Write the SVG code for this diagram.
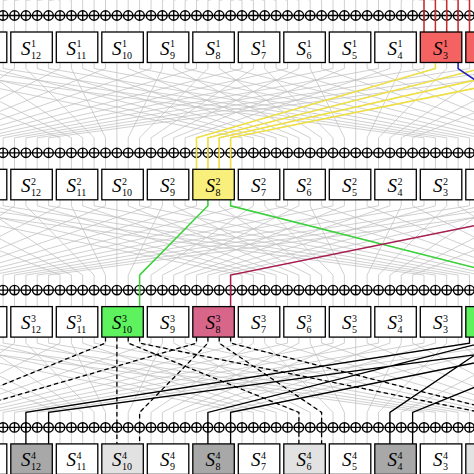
<svg xmlns="http://www.w3.org/2000/svg" xmlns:xlink="http://www.w3.org/1999/xlink" width="474" height="474" viewBox="0 0 474 474">
<style>
.w{fill:none;stroke:#c0c0c0;stroke-width:0.75}
.k{fill:none;stroke:#000;stroke-width:1.35}
.xc{fill:#fff;stroke:#000;stroke-width:1.4}
.bx rect{fill:#fff;stroke:#000;stroke-width:1.3}
.bx rect.r{fill:#f46262}
.bx rect.y{fill:#f8ef7c}
.bx rect.g{fill:#5ff25f}
.bx rect.m{fill:#d8668b}
.bx rect.dg{fill:#a8a8a8}
.bx rect.lg{fill:#e2e2e2}
.lb{font-family:"Liberation Serif","Times New Roman",serif;font-size:10px;fill:#000}
.lb .i{font-size:19px;font-style:italic}
.t{fill:none;stroke-width:1.5}
.tr{stroke:#cc2b2b}
.ty{stroke:#f0e040;stroke-width:1.6}
.tg{stroke:#3ad13a}
.tm{stroke:#a81c50}
.tb{stroke:#2020c0}
.ts{stroke:#000;stroke-width:1.3}
.td{stroke:#000;stroke-width:1.3;stroke-dasharray:4.5 3}
</style>
<defs>
<g id="xo"><circle class="xc" r="4.7"/><path class="k" d="M-4.7 0H4.7M0-4.7V4.7"/></g>
<g id="xr">
<path class="k" d="M0 0H474"/>
<use xlink:href="#xo" x="469.5"/><use xlink:href="#xo" x="458.1"/><use xlink:href="#xo" x="446.7"/><use xlink:href="#xo" x="435.4"/><use xlink:href="#xo" x="424"/><use xlink:href="#xo" x="412.6"/><use xlink:href="#xo" x="401.2"/><use xlink:href="#xo" x="389.9"/><use xlink:href="#xo" x="378.5"/><use xlink:href="#xo" x="367.1"/><use xlink:href="#xo" x="355.7"/><use xlink:href="#xo" x="344.4"/><use xlink:href="#xo" x="333"/><use xlink:href="#xo" x="321.6"/><use xlink:href="#xo" x="310.2"/><use xlink:href="#xo" x="298.9"/><use xlink:href="#xo" x="287.5"/><use xlink:href="#xo" x="276.1"/><use xlink:href="#xo" x="264.7"/><use xlink:href="#xo" x="253.4"/><use xlink:href="#xo" x="242"/><use xlink:href="#xo" x="230.6"/><use xlink:href="#xo" x="219.2"/><use xlink:href="#xo" x="207.9"/><use xlink:href="#xo" x="196.5"/><use xlink:href="#xo" x="185.1"/><use xlink:href="#xo" x="173.7"/><use xlink:href="#xo" x="162.4"/><use xlink:href="#xo" x="151"/><use xlink:href="#xo" x="139.6"/><use xlink:href="#xo" x="128.2"/><use xlink:href="#xo" x="116.9"/><use xlink:href="#xo" x="105.5"/><use xlink:href="#xo" x="94.1"/><use xlink:href="#xo" x="82.7"/><use xlink:href="#xo" x="71.4"/><use xlink:href="#xo" x="60"/><use xlink:href="#xo" x="48.6"/><use xlink:href="#xo" x="37.2"/><use xlink:href="#xo" x="25.9"/><use xlink:href="#xo" x="14.5"/><use xlink:href="#xo" x="3.1"/>
</g>
<path id="perm" class="w" d="M583.2 62.5V68.5L412.6 137.8V169.3M571.9 62.5V68.5L230.6 137.8V169.3M560.5 62.5V68.5L48.6 137.8V169.3M537.7 62.5V68.5L401.2 137.8V169.3M526.4 62.5V68.5L219.2 137.8V169.3M515 62.5V68.5L37.2 137.8V169.3M492.2 62.5V68.5L389.9 137.8V169.3M480.9 62.5V68.5L207.9 137.8V169.3M469.5 62.5V68.5L25.9 137.8V169.3M458.1 62.5V68.5L560.5 137.8V169.3M446.7 62.5V68.5L378.5 137.8V169.3M435.4 62.5V68.5L196.5 137.8V169.3M424 62.5V68.5L14.5 137.8V169.3M412.6 62.5V68.5L549.1 137.8V169.3M401.2 62.5V68.5L367.1 137.8V169.3M389.9 62.5V68.5L185.1 137.8V169.3M378.5 62.5V68.5L3.1 137.8V169.3M367.1 62.5V68.5L537.7 137.8V169.3M355.7 62.5V169.3M344.4 62.5V68.5L173.7 137.8V169.3M333 62.5V68.5L-8.3 137.8V169.3M321.6 62.5V68.5L526.4 137.8V169.3M310.2 62.5V68.5L344.4 137.8V169.3M298.9 62.5V68.5L162.4 137.8V169.3M287.5 62.5V68.5L-19.7 137.8V169.3M276.1 62.5V68.5L515 137.8V169.3M264.7 62.5V68.5L333 137.8V169.3M253.4 62.5V68.5L151 137.8V169.3M242 62.5V68.5L-31 137.8V169.3M230.6 62.5V68.5L503.6 137.8V169.3M219.2 62.5V68.5L321.6 137.8V169.3M207.9 62.5V68.5L139.6 137.8V169.3M196.5 62.5V68.5L-42.4 137.8V169.3M185.1 62.5V68.5L492.2 137.8V169.3M173.7 62.5V68.5L310.2 137.8V169.3M162.4 62.5V68.5L128.2 137.8V169.3M151 62.5V68.5L-53.8 137.8V169.3M139.6 62.5V68.5L480.9 137.8V169.3M128.2 62.5V68.5L298.9 137.8V169.3M116.9 62.5V169.3M105.5 62.5V68.5L-65.2 137.8V169.3M94.1 62.5V68.5L469.5 137.8V169.3M82.7 62.5V68.5L287.5 137.8V169.3M71.4 62.5V68.5L105.5 137.8V169.3M60 62.5V68.5L-76.5 137.8V169.3M48.6 62.5V68.5L458.1 137.8V169.3M37.2 62.5V68.5L276.1 137.8V169.3M25.9 62.5V68.5L94.1 137.8V169.3M14.5 62.5V68.5L-87.9 137.8V169.3M3.1 62.5V68.5L446.7 137.8V169.3M-8.3 62.5V68.5L264.7 137.8V169.3M-19.7 62.5V68.5L82.7 137.8V169.3M-42.4 62.5V68.5L435.4 137.8V169.3M-53.8 62.5V68.5L253.4 137.8V169.3M-65.2 62.5V68.5L71.4 137.8V169.3M-87.9 62.5V68.5L424 137.8V169.3M-99.3 62.5V68.5L242 137.8V169.3M-110.7 62.5V68.5L60 137.8V169.3"/>
</defs>
<rect width="474" height="474" fill="#fff"/>
<g id="connectors">
<use xlink:href="#perm" y="-137.3"/>
<use xlink:href="#perm"/>
<use xlink:href="#perm" y="137.3"/>
<use xlink:href="#perm" y="274.6"/>
</g>
<g id="xor-rows">
<use xlink:href="#xr" y="15.5"/>
<use xlink:href="#xr" y="152.8"/>
<use xlink:href="#xr" y="290.1"/>
<use xlink:href="#xr" y="427.4"/>
</g>
<g id="trail">
<path class="t tr" d="M469.5 0V32M458.1 0V32M446.7 0V32M435.4 0V32M424 0V32"/>
<path class="t ty" d="M435.4 62.5V68.5L196.5 137.8V169.3M480.9 62.5V68.5L207.9 137.8V169.3M526.4 62.5V68.5L219.2 137.8V169.3M571.9 62.5V68.5L230.6 137.8V169.3"/>
<path class="t tb" d="M458.1 62.5V68.5L560.5 137.8V169.3"/>
<path class="t tg" d="M207.9 199.8V205.8L139.6 275.1V306.6M230.6 199.8V205.8L503.6 275.1V306.6"/>
<path class="t tm" d="M571.9 199.8V205.8L230.6 275.1V306.6"/>
<path class="t td" d="M139.6 337.1V343.1L480.9 412.4V443.9M128.2 337.1V343.1L298.9 412.4V443.9M116.9 337.1V443.9M105.5 337.1V343.1L-65.2 412.4V443.9M230.6 337.1V343.1L503.6 412.4V443.9M219.2 337.1V343.1L321.6 412.4V443.9M207.9 337.1V343.1L139.6 412.4V443.9M196.5 337.1V343.1L-42.4 412.4V443.9"/>
<path class="t ts" d="M503.6 337.1V343.1L571.9 412.4V443.9M492.2 337.1V343.1L389.9 412.4V443.9M480.9 337.1V343.1L207.9 412.4V443.9M469.5 337.1V343.1L25.9 412.4V443.9M583.2 337.1V343.1L412.6 412.4V443.9M571.9 337.1V343.1L230.6 412.4V443.9M560.5 337.1V343.1L48.6 412.4V443.9"/>
</g>
<g id="row1" class="bx">
<g id="S1_13"><rect x="-34.7" y="32" width="41.5" height="30.5"/></g>
<g id="S1_12"><rect x="10.8" y="32" width="41.5" height="30.5"/><text class="lb" y="54.5"><tspan class="i" x="21.05">S</tspan><tspan x="31.05" y="47.3">1</tspan><tspan x="31.05" y="58.5">12</tspan></text></g>
<g id="S1_11"><rect x="56.3" y="32" width="41.5" height="30.5"/><text class="lb" y="54.5"><tspan class="i" x="66.55">S</tspan><tspan x="76.55" y="47.3">1</tspan><tspan x="76.55" y="58.5">11</tspan></text></g>
<g id="S1_10"><rect x="101.8" y="32" width="41.5" height="30.5"/><text class="lb" y="54.5"><tspan class="i" x="112.05">S</tspan><tspan x="122.05" y="47.3">1</tspan><tspan x="122.05" y="58.5">10</tspan></text></g>
<g id="S1_9"><rect x="147.3" y="32" width="41.5" height="30.5"/><text class="lb" y="54.5"><tspan class="i" x="160.05">S</tspan><tspan x="170.05" y="47.3">1</tspan><tspan x="170.05" y="58.5">9</tspan></text></g>
<g id="S1_8"><rect x="192.8" y="32" width="41.5" height="30.5"/><text class="lb" y="54.5"><tspan class="i" x="205.55">S</tspan><tspan x="215.55" y="47.3">1</tspan><tspan x="215.55" y="58.5">8</tspan></text></g>
<g id="S1_7"><rect x="238.3" y="32" width="41.5" height="30.5"/><text class="lb" y="54.5"><tspan class="i" x="251.05">S</tspan><tspan x="261.05" y="47.3">1</tspan><tspan x="261.05" y="58.5">7</tspan></text></g>
<g id="S1_6"><rect x="283.8" y="32" width="41.5" height="30.5"/><text class="lb" y="54.5"><tspan class="i" x="296.55">S</tspan><tspan x="306.55" y="47.3">1</tspan><tspan x="306.55" y="58.5">6</tspan></text></g>
<g id="S1_5"><rect x="329.3" y="32" width="41.5" height="30.5"/><text class="lb" y="54.5"><tspan class="i" x="342.05">S</tspan><tspan x="352.05" y="47.3">1</tspan><tspan x="352.05" y="58.5">5</tspan></text></g>
<g id="S1_4"><rect x="374.8" y="32" width="41.5" height="30.5"/><text class="lb" y="54.5"><tspan class="i" x="387.55">S</tspan><tspan x="397.55" y="47.3">1</tspan><tspan x="397.55" y="58.5">4</tspan></text></g>
<g id="S1_3"><rect class="r" x="420.3" y="32" width="41.5" height="30.5"/><text class="lb" y="54.5"><tspan class="i" x="433.05">S</tspan><tspan x="443.05" y="47.3">1</tspan><tspan x="443.05" y="58.5">3</tspan></text></g>
<g id="S1_2"><rect class="r" x="465.8" y="32" width="41.5" height="30.5"/></g>
</g>
<g id="row2" class="bx" transform="translate(0,137.3)">
<g id="S2_13"><rect x="-34.7" y="32" width="41.5" height="30.5"/></g>
<g id="S2_12"><rect x="10.8" y="32" width="41.5" height="30.5"/><text class="lb" y="54.5"><tspan class="i" x="21.05">S</tspan><tspan x="31.05" y="47.3">2</tspan><tspan x="31.05" y="58.5">12</tspan></text></g>
<g id="S2_11"><rect x="56.3" y="32" width="41.5" height="30.5"/><text class="lb" y="54.5"><tspan class="i" x="66.55">S</tspan><tspan x="76.55" y="47.3">2</tspan><tspan x="76.55" y="58.5">11</tspan></text></g>
<g id="S2_10"><rect x="101.8" y="32" width="41.5" height="30.5"/><text class="lb" y="54.5"><tspan class="i" x="112.05">S</tspan><tspan x="122.05" y="47.3">2</tspan><tspan x="122.05" y="58.5">10</tspan></text></g>
<g id="S2_9"><rect x="147.3" y="32" width="41.5" height="30.5"/><text class="lb" y="54.5"><tspan class="i" x="160.05">S</tspan><tspan x="170.05" y="47.3">2</tspan><tspan x="170.05" y="58.5">9</tspan></text></g>
<g id="S2_8"><rect class="y" x="192.8" y="32" width="41.5" height="30.5"/><text class="lb" y="54.5"><tspan class="i" x="205.55">S</tspan><tspan x="215.55" y="47.3">2</tspan><tspan x="215.55" y="58.5">8</tspan></text></g>
<g id="S2_7"><rect x="238.3" y="32" width="41.5" height="30.5"/><text class="lb" y="54.5"><tspan class="i" x="251.05">S</tspan><tspan x="261.05" y="47.3">2</tspan><tspan x="261.05" y="58.5">7</tspan></text></g>
<g id="S2_6"><rect x="283.8" y="32" width="41.5" height="30.5"/><text class="lb" y="54.5"><tspan class="i" x="296.55">S</tspan><tspan x="306.55" y="47.3">2</tspan><tspan x="306.55" y="58.5">6</tspan></text></g>
<g id="S2_5"><rect x="329.3" y="32" width="41.5" height="30.5"/><text class="lb" y="54.5"><tspan class="i" x="342.05">S</tspan><tspan x="352.05" y="47.3">2</tspan><tspan x="352.05" y="58.5">5</tspan></text></g>
<g id="S2_4"><rect x="374.8" y="32" width="41.5" height="30.5"/><text class="lb" y="54.5"><tspan class="i" x="387.55">S</tspan><tspan x="397.55" y="47.3">2</tspan><tspan x="397.55" y="58.5">4</tspan></text></g>
<g id="S2_3"><rect x="420.3" y="32" width="41.5" height="30.5"/><text class="lb" y="54.5"><tspan class="i" x="433.05">S</tspan><tspan x="443.05" y="47.3">2</tspan><tspan x="443.05" y="58.5">3</tspan></text></g>
<g id="S2_2"><rect x="465.8" y="32" width="41.5" height="30.5"/></g>
</g>
<g id="row3" class="bx" transform="translate(0,274.6)">
<g id="S3_13"><rect x="-34.7" y="32" width="41.5" height="30.5"/></g>
<g id="S3_12"><rect x="10.8" y="32" width="41.5" height="30.5"/><text class="lb" y="54.5"><tspan class="i" x="21.05">S</tspan><tspan x="31.05" y="47.3">3</tspan><tspan x="31.05" y="58.5">12</tspan></text></g>
<g id="S3_11"><rect x="56.3" y="32" width="41.5" height="30.5"/><text class="lb" y="54.5"><tspan class="i" x="66.55">S</tspan><tspan x="76.55" y="47.3">3</tspan><tspan x="76.55" y="58.5">11</tspan></text></g>
<g id="S3_10"><rect class="g" x="101.8" y="32" width="41.5" height="30.5"/><text class="lb" y="54.5"><tspan class="i" x="112.05">S</tspan><tspan x="122.05" y="47.3">3</tspan><tspan x="122.05" y="58.5">10</tspan></text></g>
<g id="S3_9"><rect x="147.3" y="32" width="41.5" height="30.5"/><text class="lb" y="54.5"><tspan class="i" x="160.05">S</tspan><tspan x="170.05" y="47.3">3</tspan><tspan x="170.05" y="58.5">9</tspan></text></g>
<g id="S3_8"><rect class="m" x="192.8" y="32" width="41.5" height="30.5"/><text class="lb" y="54.5"><tspan class="i" x="205.55">S</tspan><tspan x="215.55" y="47.3">3</tspan><tspan x="215.55" y="58.5">8</tspan></text></g>
<g id="S3_7"><rect x="238.3" y="32" width="41.5" height="30.5"/><text class="lb" y="54.5"><tspan class="i" x="251.05">S</tspan><tspan x="261.05" y="47.3">3</tspan><tspan x="261.05" y="58.5">7</tspan></text></g>
<g id="S3_6"><rect x="283.8" y="32" width="41.5" height="30.5"/><text class="lb" y="54.5"><tspan class="i" x="296.55">S</tspan><tspan x="306.55" y="47.3">3</tspan><tspan x="306.55" y="58.5">6</tspan></text></g>
<g id="S3_5"><rect x="329.3" y="32" width="41.5" height="30.5"/><text class="lb" y="54.5"><tspan class="i" x="342.05">S</tspan><tspan x="352.05" y="47.3">3</tspan><tspan x="352.05" y="58.5">5</tspan></text></g>
<g id="S3_4"><rect x="374.8" y="32" width="41.5" height="30.5"/><text class="lb" y="54.5"><tspan class="i" x="387.55">S</tspan><tspan x="397.55" y="47.3">3</tspan><tspan x="397.55" y="58.5">4</tspan></text></g>
<g id="S3_3"><rect x="420.3" y="32" width="41.5" height="30.5"/><text class="lb" y="54.5"><tspan class="i" x="433.05">S</tspan><tspan x="443.05" y="47.3">3</tspan><tspan x="443.05" y="58.5">3</tspan></text></g>
<g id="S3_2"><rect class="g" x="465.8" y="32" width="41.5" height="30.5"/></g>
</g>
<g id="row4" class="bx" transform="translate(0,411.9)">
<g id="S4_13"><rect x="-34.7" y="32" width="41.5" height="30.5"/></g>
<g id="S4_12"><rect class="dg" x="10.8" y="32" width="41.5" height="30.5"/><text class="lb" y="54.5"><tspan class="i" x="21.05">S</tspan><tspan x="31.05" y="47.3">4</tspan><tspan x="31.05" y="58.5">12</tspan></text></g>
<g id="S4_11"><rect x="56.3" y="32" width="41.5" height="30.5"/><text class="lb" y="54.5"><tspan class="i" x="66.55">S</tspan><tspan x="76.55" y="47.3">4</tspan><tspan x="76.55" y="58.5">11</tspan></text></g>
<g id="S4_10"><rect class="lg" x="101.8" y="32" width="41.5" height="30.5"/><text class="lb" y="54.5"><tspan class="i" x="112.05">S</tspan><tspan x="122.05" y="47.3">4</tspan><tspan x="122.05" y="58.5">10</tspan></text></g>
<g id="S4_9"><rect x="147.3" y="32" width="41.5" height="30.5"/><text class="lb" y="54.5"><tspan class="i" x="160.05">S</tspan><tspan x="170.05" y="47.3">4</tspan><tspan x="170.05" y="58.5">9</tspan></text></g>
<g id="S4_8"><rect class="dg" x="192.8" y="32" width="41.5" height="30.5"/><text class="lb" y="54.5"><tspan class="i" x="205.55">S</tspan><tspan x="215.55" y="47.3">4</tspan><tspan x="215.55" y="58.5">8</tspan></text></g>
<g id="S4_7"><rect x="238.3" y="32" width="41.5" height="30.5"/><text class="lb" y="54.5"><tspan class="i" x="251.05">S</tspan><tspan x="261.05" y="47.3">4</tspan><tspan x="261.05" y="58.5">7</tspan></text></g>
<g id="S4_6"><rect class="lg" x="283.8" y="32" width="41.5" height="30.5"/><text class="lb" y="54.5"><tspan class="i" x="296.55">S</tspan><tspan x="306.55" y="47.3">4</tspan><tspan x="306.55" y="58.5">6</tspan></text></g>
<g id="S4_5"><rect x="329.3" y="32" width="41.5" height="30.5"/><text class="lb" y="54.5"><tspan class="i" x="342.05">S</tspan><tspan x="352.05" y="47.3">4</tspan><tspan x="352.05" y="58.5">5</tspan></text></g>
<g id="S4_4"><rect class="dg" x="374.8" y="32" width="41.5" height="30.5"/><text class="lb" y="54.5"><tspan class="i" x="387.55">S</tspan><tspan x="397.55" y="47.3">4</tspan><tspan x="397.55" y="58.5">4</tspan></text></g>
<g id="S4_3"><rect x="420.3" y="32" width="41.5" height="30.5"/><text class="lb" y="54.5"><tspan class="i" x="433.05">S</tspan><tspan x="443.05" y="47.3">4</tspan><tspan x="443.05" y="58.5">3</tspan></text></g>
<g id="S4_2"><rect class="lg" x="465.8" y="32" width="41.5" height="30.5"/></g>
</g>
</svg>
